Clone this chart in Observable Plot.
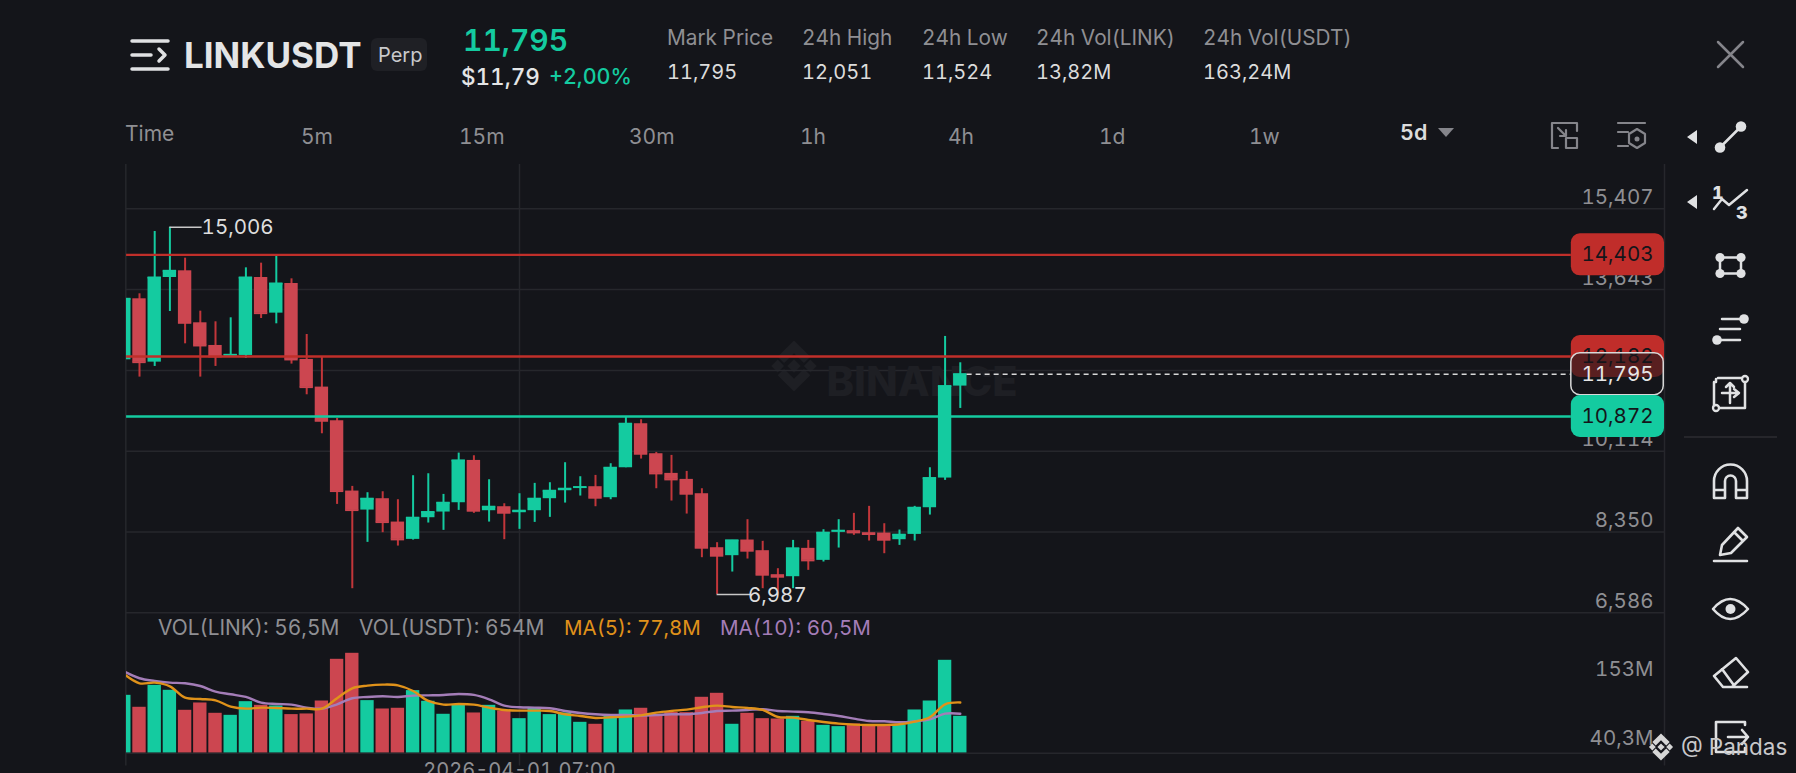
<!DOCTYPE html>
<html>
<head>
<meta charset="utf-8">
<script src="https://cdn.jsdelivr.net/npm/d3@7"></script>
<script src="https://cdn.jsdelivr.net/npm/@observablehq/plot@0.6"></script>
<style>
html,body{margin:0;padding:0;background:#14151a;width:1796px;height:773px;overflow:hidden;font-family:Inter,"Noto Sans",sans-serif;font-variant-numeric:tabular-nums;font-feature-settings:"tnum" 1}
#page{position:relative;width:1796px;height:773px;overflow:hidden}
.t{position:absolute;white-space:nowrap;line-height:1;transform:translateY(-50%)}
.layer{position:absolute;left:0;top:0}
#price,#volume{position:absolute;left:0}
#price{top:150px}#volume{top:612.5px}
svg{background:transparent}
svg text{font-variant-numeric:tabular-nums;font-feature-settings:"tnum" 1}
</style>
</head>
<body>
<div id="page">
<svg class="layer" width="1796" height="773" id="under"></svg>
<div id="price"></div>
<div id="volume"></div>
<div id="chrome"></div>
<svg class="layer" width="1796" height="773" id="icons"></svg>
</div>
<script>
// ---- data ----
const opens  = [12110,13442,12059,13907,14053,12918,12423,12205,12205,13907,13129,13776,12118,11514,10779,9244,8829,9077,8567,8189,8662,8786,8989,9913,8815,8902,8771,8815,9077,9251,9303,9339,9099,9753,10714,10059,9630,9499,9186,8007,7833,8175,7942,7418,7374,7993,7731,8349,8378,8335,8327,8182,8298,8880,9528,11536];
const closes = [13442,12059,13907,14053,12918,12423,12183,12219,13907,13129,13776,12118,11514,10779,9244,8829,9077,8567,8189,8662,8786,8989,9913,8815,8902,8771,8815,9077,9251,9295,9331,9099,9753,10714,10059,9630,9499,9186,8007,7833,8167,7942,7418,7374,7993,7731,8335,8378,8342,8306,8182,8291,8880,9528,11536,11795];
const highs  = [13442,13551,14911,15006,14329,13172,12940,13027,14118,14220,14366,13878,12663,12168,10830,9346,9208,9229,9055,9579,9622,9171,10073,10015,9491,8967,9186,9412,9426,9863,9557,9586,9841,10859,10801,10088,10023,9673,9295,8117,8167,8619,8146,7549,8167,8167,8400,8619,8757,8910,8531,8393,8910,9753,12620,12045];
const lows   = [12090,11732,11965,13165,12459,11732,11965,12205,12139,13012,12896,12016,11346,10495,8953,7112,8124,8335,8043,8174,8546,8386,8822,8757,8567,8182,8408,8560,8670,8982,9135,8902,9055,9753,9943,9295,9026,8742,7789,6987,7476,7760,7113,7003,7113,7513,7695,8000,8277,8153,7876,8058,8153,8720,9477,11048];
const volumes= [88.7,70.4,104,96.4,65.8,77,61.2,58.1,79,73.4,72.4,59.2,60.2,80,143.8,153,80.6,67.8,68.9,95.9,79.6,59.7,74.5,61.7,73.4,64.8,53,68.9,59.2,61.7,47.4,44.4,56.6,66.3,68.9,58.7,62.7,62.2,85.7,91.8,44.4,61.2,53,52.5,56.6,49,42.8,40.8,44.9,43.4,42.8,43.4,66.3,80,142.3,56.6];
const ma5    = [120.9,107.1,108.1,102.5,85.2,83.1,81.1,71.4,68.3,69.9,69.4,68.3,68.3,68.3,84.2,99.5,103.5,105.1,104,95.4,80.1,74.5,75.5,74.5,69.9,66.3,65.3,65.3,64.8,59.7,57.1,54.1,55.1,56.1,58.1,62.2,64.8,66.8,70.4,72.9,70.9,69.4,66.3,55.6,54.6,51,47.9,45.4,43.9,43.4,43.4,44.4,48.5,55.1,75,77.8];
const ma10   = [125,114.8,110.7,108.1,107.1,103,94.4,90.3,86.2,77.5,75.5,74.5,69.9,68.3,75,84.2,86.2,87.2,86.2,88.2,88.7,89.3,90.8,89.3,82.6,72.9,70.4,69.9,68.9,64.8,61.7,59.7,58.7,58.7,57.6,58.7,59.7,59.7,61.7,64.8,65.3,66.3,67.3,64.8,63.8,62.7,60.2,57.1,53,49.5,49,47.4,49,52,60.7,60.5];
const priceTicks = [15407,13643,11879,10114,8350,6586];
const priceTickLabels = ["15,407","13,643","","10,114","8,350","6,586"];
const redLevels = [14403,12182];
const redLevelLabels = ["14,403","12,182"];
const greenLevels = [10872];
const greenLevelLabels = ["10,872"];
const lastPrice = 11795, lastLabel = "11,795";
const volLabels = ["153M","40,3M"];
const volLabelAt = [128.5,22];
const dateBar = 26, dateLabel = "2026-04-01 07:00";

// ---- shared layout ----
const GREEN="#14cba0", RED="#cc4650", WICKR="#c2363a", LINER="#c02f2a", GRID="#26272c", LABEL="#8f8f93";
const xDomain=[0,101.33], xRange=[123.8,1664];
const badgeFrom=95.2, badgeTo=101.33;
const bars=d3.range(opens.length).map(i=>({i,open:opens[i],close:closes[i],high:highs[i],low:lows[i],vol:volumes[i],ma5:ma5[i],ma10:ma10[i],up:closes[i]>=opens[i]}));
const col=d=>d.up?GREEN:RED, wickCol=d=>d.up?GREEN:WICKR;
const font="Inter, 'Noto Sans', sans-serif";
const hw=0.44;

const price=Plot.plot({
  width:1796,height:463,marginLeft:126,marginRight:131.5,marginTop:14,marginBottom:0,
  style:{background:"transparent",fontFamily:font,overflow:"visible"},
  x:{type:"linear",domain:xDomain,range:xRange,axis:null},
  y:{type:"linear",domain:[6586,15407],range:[462.3,58.3],axis:null},
  marks:[
    Plot.ruleX([0.1,dateBar,xDomain[1]],{x:d=>d,stroke:GRID,strokeWidth:1.5}),
    Plot.ruleY(priceTicks,{stroke:GRID,strokeWidth:1.5}),
    Plot.text(["BINANCE"],{frameAnchor:"top-left",dx:700,dy:202,text:d=>d,fill:"#1e1f24",fontSize:41.5,fontWeight:800,textAnchor:"start"}),
    Plot.text(priceTicks,{y:d=>d,frameAnchor:"right",dx:-11.5,dy:-11.5,text:(d,i)=>priceTickLabels[i],textAnchor:"end",fill:LABEL,fontSize:20.5}),
    Plot.ruleX(bars,{x:"i",y1:"low",y2:"high",stroke:wickCol,strokeWidth:2,clip:"frame"}),
    Plot.rect(bars,{x1:d=>d.i-hw,x2:d=>d.i+hw,y1:"open",y2:"close",fill:col,clip:"frame"}),
    Plot.ruleY(bars,{x1:d=>d.i-hw,x2:d=>d.i+hw,y:"close",stroke:col,strokeWidth:2,clip:"frame"}),
    Plot.ruleY(redLevels,{x1:0.15,x2:badgeFrom,stroke:LINER,strokeWidth:2.3}),
    Plot.ruleY(greenLevels,{x1:0.15,x2:badgeFrom,stroke:GREEN,strokeWidth:2.3}),
    Plot.ruleY([lastPrice],{x1:55.45,x2:badgeFrom,stroke:"#d8d8d8",strokeWidth:1.5,strokeDasharray:"5,4"}),
    Plot.rect(redLevels,{x1:badgeFrom,x2:badgeTo,y1:d=>d,y2:d=>d,insetTop:-21,insetBottom:-21,fill:"#c02d2a",rx:9,ry:9}),
    Plot.text(redLevels,{y:d=>d,frameAnchor:"right",dx:-11.5,text:(d,i)=>redLevelLabels[i],textAnchor:"end",fill:"#14151a",fontSize:20.5}),
    Plot.rect([lastPrice],{x1:badgeFrom,x2:badgeTo-0.05,y1:d=>d,y2:d=>d,insetTop:-21,insetBottom:-21,fill:"#14151a",fillOpacity:0.6,stroke:"#d8d8d8",strokeWidth:1.5,rx:9,ry:9}),
    Plot.text([lastPrice],{y:d=>d,frameAnchor:"right",dx:-11.5,text:()=>lastLabel,textAnchor:"end",fill:"#e6e6e6",fontSize:20.5}),
    Plot.rect(greenLevels,{x1:badgeFrom,x2:badgeTo,y1:d=>d,y2:d=>d,insetTop:-21,insetBottom:-21,fill:GREEN,rx:9,ry:9}),
    Plot.text(greenLevels,{y:d=>d,frameAnchor:"right",dx:-11.5,text:(d,i)=>greenLevelLabels[i],textAnchor:"end",fill:"#14151a",fontSize:20.5}),
    Plot.ruleY([15006],{x1:3,x2:5.12,stroke:"#c8c8c8",strokeWidth:1.5}),
    Plot.text([15006],{x:5.12,y:d=>d,dx:-0.5,text:d=>d3.format(",")(d),textAnchor:"start",fill:"#dedede",fontSize:20.5}),
    Plot.ruleY([6987],{x1:39,x2:41.2,stroke:"#c8c8c8",strokeWidth:1.5}),
    Plot.text([6987],{x:41.2,y:d=>d,dx:-2.5,dy:1,text:d=>d3.format(",")(d),textAnchor:"start",fill:"#dedede",fontSize:20.5})
  ]
});
document.getElementById("price").appendChild(price);

const volume=Plot.plot({
  width:1796,height:160.5,marginLeft:126,marginRight:131.5,marginTop:0,marginBottom:8,
  style:{background:"transparent",fontFamily:font,overflow:"hidden"},
  x:{type:"linear",domain:xDomain,range:xRange,axis:null},
  y:{type:"linear",domain:[0,153],range:[139.8,39.8],axis:null},
  marks:[
    Plot.ruleX([0.1,dateBar,xDomain[1]],{x:d=>d,stroke:GRID,strokeWidth:1.5}),
    Plot.rect(bars,{x1:d=>d.i-hw,x2:d=>d.i+hw,y1:0,y2:"vol",fill:col,clip:"frame"}),
    Plot.ruleY([0],{stroke:GRID,strokeWidth:1.5}),
    Plot.line(bars,{x:"i",y:"ma10",stroke:"#a47db8",strokeWidth:2.4,curve:"catmull-rom",clip:"frame"}),
    Plot.line(bars,{x:"i",y:"ma5",stroke:"#e0921a",strokeWidth:2.4,curve:"catmull-rom",clip:"frame"}),
    Plot.text(volLabels,{y:(d,i)=>volLabelAt[i],frameAnchor:"right",dx:-11.5,text:d=>d,textAnchor:"end",fill:LABEL,fontSize:20.5}),
    Plot.text([dateLabel],{x:()=>dateBar,y:0,dy:17.5,text:d=>d,textAnchor:"middle",fill:LABEL,fontSize:20})
  ]
});
document.getElementById("volume").appendChild(volume);

// ---- surrounding panel text ----
const texts=[
 ["LINKUSDT",184,55,35,"#e4e5e6",700],
 ["Perp",378,55,20,"#c9cacc",400],
 ["11,795",463,40,30,GREEN,600],
 ["$11,79",461,77,22.5,"#e4e5e6",500],
 ["+2,00%",549,77,21.5,GREEN,500],
 ["Mark Price",667,38,20.8,LABEL,400],["11,795",667,72,20,"#dcdcdc",400],
 ["24h High",802,38,20.8,LABEL,400],["12,051",802,72,20,"#dcdcdc",400],
 ["24h Low",922,38,20.8,LABEL,400],["11,524",922,72,20,"#dcdcdc",400],
 ["24h Vol(LINK)",1036,38,20.8,LABEL,400],["13,82M",1036,72,20,"#dcdcdc",400],
 ["24h Vol(USDT)",1203,38,20.8,LABEL,400],["163,24M",1203,72,20,"#dcdcdc",400],
 ["Time",125,133,21,LABEL,400],["5m",301,136,21,LABEL,400],["15m",459,136,21,LABEL,400],["30m",629,136,21,LABEL,400],
 ["1h",800,136,21,LABEL,400],["4h",948,136,21,LABEL,400],["1d",1099,136,21,LABEL,400],["1w",1249,136,21,LABEL,400],
 ["5d",1400,133,21.5,"#dcdcdc",600],
 ["VOL(LINK): 56,5M",158,628,20.9,LABEL,400],["VOL(USDT): 654M",359,628,20.9,LABEL,400],
 ["MA(5): 77,8M",564,628,20.5,"#e0921a",400],["MA(10): 60,5M",720,628,20.6,"#a47db8",400]
];
const chrome=document.getElementById("chrome");
const perp=document.createElement("div");
perp.style.cssText="position:absolute;left:371px;top:38px;width:56px;height:33px;background:#1f2025;border-radius:6px";
chrome.appendChild(perp);
for(const [s,x,y,size,color,w] of texts){
  const d=document.createElement("div");d.className="t";d.textContent=s;
  d.style.cssText=`left:${x}px;top:${y}px;font-size:${size}px;color:${color};font-weight:${w}`;
  chrome.appendChild(d);
}
const logo=(cx,cy,u,fill)=>`<g transform="translate(${cx},${cy}) scale(${u})" fill="${fill}">
<path d="M0-1.05 1.05 0 0 1.05-1.05 0Z"/><path d="M-2.55-1 -1.55 0-2.55 1-3.55 0Z"/><path d="M2.55-1 3.55 0 2.55 1 1.55 0Z"/>
<path d="M0-4 2.55-1.45 1.55-.45 0-2 -1.55-.45-2.55-1.45Z"/><path d="M0 4 2.55 1.45 1.55.45 0 2 -1.55.45-2.55 1.45Z"/></g>`;
document.getElementById("under").innerHTML=logo(794,366,6.4,"#1e1f24");
const I="#e0e1e3",G="#85858b";
document.getElementById("icons").innerHTML=`
<g fill="none" stroke="${I}" stroke-width="3.5" stroke-linecap="round"><path d="M132 41H168M132 55H151M132 69H168"/></g>
<path d="M159 49 165 55 159 61" fill="none" stroke="${I}" stroke-width="3.5" stroke-linecap="round" stroke-linejoin="round"/>
<path d="M1718 42 1743 67M1743 42 1718 67" stroke="${G}" stroke-width="2.5" stroke-linecap="round"/>
<path d="M1438 128H1454L1446 137Z" fill="${G}"/>
<g fill="none" stroke="${G}" stroke-width="2.2" stroke-linecap="round" stroke-linejoin="round">
<path d="M1558 148H1552V123H1577V131M1558 128 1566 136M1566 130V136H1560"/><rect x="1566" y="138" width="11" height="10"/>
<path d="M1618 123H1645M1618 132H1628M1618 146H1628M1637 129 1645 134V143L1637 148 1629 143V134Z"/></g>
<circle cx="1637" cy="139" r="2.5" fill="${G}"/>
<path d="M1697 130V144L1687 137Z M1697 195V209L1687 202Z" fill="${I}"/>
<g fill="${I}"><circle cx="1720" cy="147.5" r="5.3"/><circle cx="1741" cy="126.5" r="5.3"/>
<circle cx="1720" cy="257.5" r="4.6"/><circle cx="1741" cy="257.5" r="4.6"/><circle cx="1720" cy="273.5" r="4.6"/><circle cx="1741" cy="273.5" r="4.6"/>
<circle cx="1744" cy="319" r="4.8"/><circle cx="1717" cy="340" r="4.8"/></g>
<g fill="none" stroke="${I}" stroke-width="2.5" stroke-linecap="round" stroke-linejoin="round">
<path d="M1720 147.5 1741 126.5M1720 257.5H1741V273.5H1720ZM1722 319H1744M1720 329H1740M1717 340H1740"/>
<path d="M1714 209 1722 199 1729 205 1747 190"/>
<path d="M1716 382V379M1714 382V408H1745V381M1718 378H1742"/><path d="M1730 383V403M1722 393H1738M1726 387 1730 383 1734 387M1734 389 1739 393 1734 397"/>
</g>
<g font-family="${font}" font-weight="800" font-size="18" fill="${I}"><text x="1712" y="199">1</text><text x="1736" y="219">3</text></g>
<g fill="#14151a" stroke="${I}" stroke-width="2.3"><circle cx="1745" cy="379" r="3"/><circle cx="1716" cy="408" r="3"/></g>
<path d="M1684 437H1777" stroke="#2c2d32" stroke-width="1.5"/>
<g fill="none" stroke="${I}" stroke-width="2.6" stroke-linecap="round" stroke-linejoin="round">
<path d="M1714 498V481A16.5 16.5 0 0 1 1747 481V498H1736V481A5.5 5.5 0 0 0 1725 481V498ZM1714 490H1725M1736 490H1747"/>
<path d="M1720 555 1722 545 1738 528 1747 537 1731 553ZM1734 532 1743 541M1714 561H1747"/>
<path d="M1713 609Q1730 589 1748 609Q1730 629 1713 609Z"/>
<path d="M1714 676 1736 658 1748 672 1732 687H1723ZM1722 669 1733 684M1723 687H1747"/>
<path d="M1745 725V722H1716V752H1745V748M1728 737H1748M1742 730 1748 737 1742 744"/>
</g>
<circle cx="1730.5" cy="609" r="5" fill="${I}"/>
${logo(1661,747,3.4,"#d6d6d6")}
<text x="1681" y="755" font-size="22.5" fill="#c8c8ca" font-family="${font}">@ Pandas</text>`;
</script>
</body>
</html>
